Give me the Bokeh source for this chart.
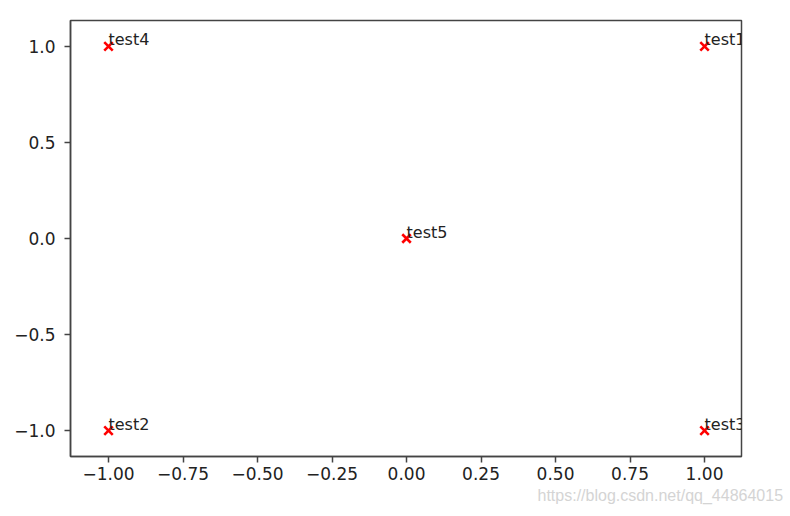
from bokeh.plotting import figure
from bokeh.models import ColumnDataSource, FixedTicker, Range1d, Title, LabelSet
from bokeh.embed import file_html
from bokeh.resources import INLINE
from bokeh.core.properties import value

names = ["test1", "test2", "test3", "test4", "test5"]
xs = [1.0, -1.0, 1.0, -1.0, 0.0]
ys = [1.0, -1.0, -1.0, 1.0, 0.0]

x_ticks = [-1.0, -0.75, -0.5, -0.25, 0.0, 0.25, 0.5, 0.75, 1.0]
x_tick_labels = ["−1.00", "−0.75", "−0.50", "−0.25", "0.00", "0.25", "0.50", "0.75", "1.00"]
y_ticks = [-1.0, -0.5, 0.0, 0.5, 1.0]
y_tick_labels = ["−1.0", "−0.5", "0.0", "0.5", "1.0"]
watermark = "https://blog.csdn.net/qq_44864015"

src = ColumnDataSource(dict(x=xs, y=ys, name=names))

p = figure(width=788, height=514, output_backend="svg", toolbar_location=None,
           x_range=Range1d(-1.1275, 1.124), y_range=Range1d(-1.135, 1.135),
           min_border_left=70, min_border_right=47, min_border_top=20, min_border_bottom=58)
p.background_fill_color = "white"
p.border_fill_color = "white"
p.outline_line_color = "#444444"
p.outline_line_width = 1.5
p.xgrid.visible = False
p.ygrid.visible = False

FONT = "DejaVu Sans"
for ax, ticks, labels, standoff in ((p.xaxis[0], x_ticks, x_tick_labels, 4),
                                    (p.yaxis[0], y_ticks, y_tick_labels, 9)):
    ax.ticker = FixedTicker(ticks=ticks)
    ax.major_label_overrides = {t: l for t, l in zip(ticks, labels)}
    ax.minor_tick_line_color = None
    ax.major_tick_out = 6
    ax.major_tick_in = 0
    ax.axis_line_color = "#444444"
    ax.axis_line_width = 1.5
    ax.major_tick_line_color = "#444444"
    ax.major_tick_line_width = 1.5
    ax.major_label_text_font = FONT
    ax.major_label_text_font_size = "17px"
    ax.major_label_text_color = "#222222"
    ax.major_label_standoff = standoff

p.scatter("x", "y", source=src, marker="x", size=12, line_color="#ff0000", line_width=2.6)

labels_set = LabelSet(x="x", y="y", text="name", source=src, text_font=value(FONT),
                      text_font_size=value("16px"), text_color=value("#222222"),
                      text_align="left", text_baseline="bottom", y_offset=-3, level="overlay")
p.add_layout(labels_set)

p.add_layout(Title(text=watermark, align="left", offset=467, text_font="Liberation Sans",
                   text_font_size="16px", text_font_style="normal", text_color="#d4d4d4",
                   standoff=5), "below")

open("out.html", "w").write(file_html(p, INLINE))
